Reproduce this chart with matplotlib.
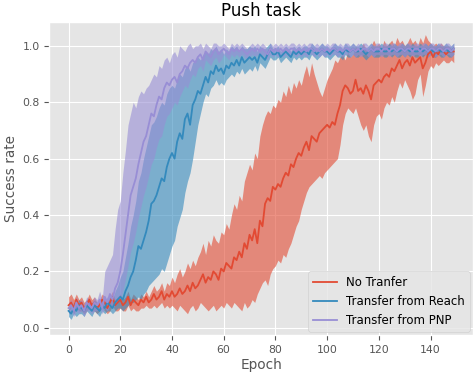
import numpy as np
import matplotlib
matplotlib.use("Agg")
import matplotlib.pyplot as plt

epochs = list(range(150))

# No Transfer
nt_mean = [
    0.08, 0.09, 0.07, 0.10, 0.08, 0.09, 0.07, 0.08, 0.10, 0.08,
    0.09, 0.07, 0.08, 0.10, 0.09, 0.07, 0.09, 0.11, 0.08, 0.09,
    0.10, 0.08, 0.09, 0.11, 0.08, 0.10, 0.09, 0.08, 0.10, 0.09,
    0.11, 0.09, 0.10, 0.12, 0.10, 0.11, 0.13, 0.10, 0.12, 0.11,
    0.13, 0.11, 0.12, 0.14, 0.12, 0.13, 0.15, 0.13, 0.16, 0.14,
    0.15, 0.17, 0.19, 0.16, 0.18, 0.17, 0.20, 0.19, 0.17, 0.21,
    0.20, 0.23, 0.22, 0.21, 0.25, 0.24, 0.27, 0.25, 0.30, 0.28,
    0.33, 0.31, 0.35, 0.30, 0.38, 0.36, 0.44, 0.46, 0.45, 0.50,
    0.49, 0.51, 0.50, 0.53, 0.55, 0.54, 0.58, 0.57, 0.60, 0.62,
    0.61, 0.64, 0.66, 0.63, 0.68, 0.67, 0.66, 0.69, 0.70, 0.71,
    0.72, 0.71, 0.73, 0.72, 0.76, 0.79, 0.84, 0.86, 0.85, 0.83,
    0.84, 0.88, 0.84, 0.85, 0.83, 0.86, 0.84, 0.81, 0.86, 0.87,
    0.88, 0.87, 0.89, 0.90, 0.89, 0.92, 0.91, 0.93, 0.95, 0.92,
    0.94, 0.95, 0.93, 0.96, 0.94, 0.95, 0.96, 0.92, 0.94, 0.97,
    0.98, 0.96, 0.98, 0.97, 0.99, 0.98, 0.97, 0.98, 0.98, 0.98,
]
nt_lo = [
    0.06, 0.07, 0.05, 0.07, 0.06, 0.06, 0.05, 0.06, 0.07, 0.06,
    0.06, 0.05, 0.06, 0.07, 0.06, 0.05, 0.06, 0.08, 0.06, 0.06,
    0.07, 0.06, 0.06, 0.08, 0.06, 0.07, 0.06, 0.06, 0.07, 0.07,
    0.08, 0.07, 0.07, 0.08, 0.07, 0.08, 0.09, 0.07, 0.08, 0.07,
    0.08, 0.07, 0.06, 0.08, 0.07, 0.06, 0.05, 0.07, 0.08, 0.06,
    0.07, 0.09, 0.08, 0.07, 0.06, 0.07, 0.08, 0.06, 0.07, 0.08,
    0.07, 0.09, 0.08, 0.07, 0.09, 0.08, 0.07, 0.06, 0.09, 0.07,
    0.08, 0.10, 0.09, 0.12, 0.14, 0.16, 0.17, 0.15, 0.19, 0.21,
    0.22, 0.24, 0.23, 0.26, 0.25, 0.28, 0.30, 0.33, 0.36, 0.38,
    0.42, 0.45, 0.48, 0.50, 0.51, 0.52, 0.53, 0.54, 0.53, 0.55,
    0.56, 0.57, 0.58, 0.59, 0.60, 0.65, 0.72, 0.76, 0.78, 0.77,
    0.76, 0.78, 0.75, 0.72, 0.70, 0.72, 0.68, 0.66, 0.72, 0.75,
    0.76, 0.74, 0.78, 0.80, 0.79, 0.82, 0.80, 0.84, 0.87, 0.85,
    0.88, 0.86, 0.84, 0.81, 0.83, 0.88, 0.90, 0.82, 0.86, 0.91,
    0.93, 0.92, 0.94, 0.93, 0.94, 0.95, 0.94, 0.94, 0.95, 0.94,
]
nt_hi = [
    0.11, 0.12, 0.10, 0.12, 0.10, 0.11, 0.09, 0.10, 0.12, 0.10,
    0.11, 0.09, 0.10, 0.12, 0.11, 0.09, 0.11, 0.13, 0.10, 0.11,
    0.12, 0.10, 0.11, 0.13, 0.10, 0.12, 0.11, 0.10, 0.12, 0.11,
    0.13, 0.11, 0.13, 0.15, 0.13, 0.14, 0.16, 0.13, 0.16, 0.15,
    0.18, 0.16, 0.19, 0.21, 0.18, 0.20, 0.23, 0.21, 0.24, 0.22,
    0.25, 0.27, 0.30, 0.26, 0.31, 0.29, 0.33, 0.31, 0.30, 0.34,
    0.33, 0.37, 0.35, 0.40, 0.44, 0.42, 0.47, 0.45, 0.52, 0.55,
    0.58, 0.56, 0.62, 0.60, 0.68, 0.72, 0.75, 0.77, 0.76, 0.79,
    0.78, 0.81, 0.80, 0.84, 0.82, 0.86, 0.83, 0.87, 0.85, 0.88,
    0.86, 0.90, 0.93, 0.89, 0.94, 0.90, 0.87, 0.84, 0.82, 0.85,
    0.88, 0.90, 0.92, 0.95, 0.94, 0.96, 0.97, 0.95, 0.98, 0.96,
    0.97, 1.00, 0.98, 0.99, 1.01, 0.99, 0.98, 1.00, 1.02, 1.00,
    1.01, 0.99, 1.02, 1.00, 1.01, 1.02, 1.00, 1.03, 1.01, 1.02,
    1.00, 1.01, 1.03, 1.01, 1.02, 1.00, 1.03, 1.01, 1.04, 1.02,
    1.01, 1.00, 1.01, 1.00, 1.01, 1.00, 1.00, 1.00, 0.99, 1.00,
]

# Transfer from Reach
re_mean = [
    0.06, 0.05, 0.07, 0.06, 0.08, 0.07, 0.06, 0.08, 0.07, 0.06,
    0.08, 0.07, 0.06, 0.08, 0.07, 0.09, 0.08, 0.07, 0.09, 0.10,
    0.11, 0.10, 0.13, 0.15, 0.18, 0.20, 0.24, 0.29, 0.28, 0.31,
    0.34, 0.38, 0.44, 0.45, 0.47, 0.50, 0.53, 0.52, 0.57, 0.60,
    0.62, 0.60, 0.66, 0.69, 0.67, 0.74, 0.76, 0.72, 0.79, 0.81,
    0.84, 0.83, 0.86, 0.89, 0.87, 0.91, 0.90, 0.93, 0.91, 0.92,
    0.90, 0.93, 0.92, 0.94, 0.93, 0.95, 0.93, 0.96, 0.94, 0.95,
    0.96, 0.95, 0.96, 0.94, 0.97, 0.96, 0.95, 0.97, 0.99, 0.97,
    0.97, 0.98, 0.96, 0.97, 0.98, 0.97, 0.96, 0.98, 0.97, 0.98,
    0.97, 0.98, 0.98, 0.97, 0.99, 0.98, 0.97, 0.98, 0.99, 0.98,
    0.98, 0.97, 0.98, 0.99, 0.98, 0.98, 0.97, 0.99, 0.98, 0.98,
    0.99, 0.98, 0.98, 0.99, 0.98, 0.97, 0.98, 0.99, 0.98, 0.98,
    0.98, 0.99, 0.98, 0.98, 0.99, 0.98, 0.99, 0.98, 0.98, 0.99,
    0.98, 0.99, 0.98, 0.99, 0.98, 0.98, 0.99, 0.98, 0.99, 0.98,
    0.99, 0.98, 0.98, 0.99, 0.98, 0.98, 0.99, 0.98, 0.98, 0.99,
]
re_lo = [
    0.04, 0.03, 0.05, 0.04, 0.05, 0.05, 0.04, 0.06, 0.05, 0.04,
    0.06, 0.05, 0.04, 0.06, 0.05, 0.06, 0.06, 0.05, 0.06, 0.07,
    0.07, 0.06, 0.07, 0.08, 0.09, 0.09, 0.10, 0.11, 0.10, 0.12,
    0.13, 0.15, 0.16, 0.17, 0.18, 0.19, 0.21, 0.20, 0.23, 0.26,
    0.29, 0.31, 0.36, 0.39, 0.42, 0.48, 0.52, 0.55, 0.60, 0.66,
    0.72, 0.76, 0.80, 0.83, 0.82, 0.85, 0.86, 0.88, 0.86, 0.87,
    0.86, 0.88, 0.89, 0.90, 0.89, 0.91, 0.90, 0.92, 0.90, 0.91,
    0.92, 0.91, 0.93, 0.91, 0.94, 0.93, 0.92, 0.94, 0.96, 0.95,
    0.95, 0.96, 0.94, 0.95, 0.96, 0.95, 0.94, 0.96, 0.95, 0.96,
    0.95, 0.96, 0.96, 0.95, 0.97, 0.96, 0.95, 0.96, 0.97, 0.96,
    0.96, 0.95, 0.96, 0.97, 0.96, 0.96, 0.95, 0.97, 0.96, 0.96,
    0.97, 0.96, 0.96, 0.97, 0.96, 0.95, 0.96, 0.97, 0.96, 0.96,
    0.96, 0.97, 0.96, 0.96, 0.97, 0.96, 0.97, 0.96, 0.96, 0.97,
    0.96, 0.97, 0.96, 0.97, 0.96, 0.96, 0.97, 0.96, 0.97, 0.96,
    0.97, 0.96, 0.96, 0.97, 0.96, 0.96, 0.97, 0.96, 0.96, 0.97,
]
re_hi = [
    0.08, 0.07, 0.09, 0.08, 0.10, 0.09, 0.08, 0.10, 0.09, 0.08,
    0.10, 0.09, 0.08, 0.10, 0.09, 0.11, 0.11, 0.10, 0.13, 0.15,
    0.18, 0.20, 0.25, 0.30, 0.36, 0.40, 0.45, 0.52, 0.55, 0.60,
    0.64, 0.68, 0.72, 0.73, 0.75, 0.78, 0.80, 0.79, 0.83, 0.85,
    0.86, 0.85, 0.88, 0.90, 0.89, 0.92, 0.93, 0.91, 0.94, 0.95,
    0.96, 0.95, 0.97, 0.98, 0.97, 0.99, 0.98, 1.00, 0.98, 0.99,
    0.97, 0.99, 0.98, 1.00, 0.99, 1.00, 0.98, 1.00, 0.99, 0.99,
    1.00, 0.99, 1.00, 0.98, 1.00, 0.99, 0.99, 1.00, 1.01, 0.99,
    0.99, 1.00, 0.98, 0.99, 1.00, 0.99, 0.98, 1.00, 0.99, 1.00,
    0.99, 1.00, 1.00, 0.99, 1.01, 1.00, 0.99, 1.00, 1.01, 1.00,
    1.00, 0.99, 1.00, 1.01, 1.00, 1.00, 0.99, 1.01, 1.00, 1.00,
    1.01, 1.00, 1.00, 1.01, 1.00, 0.99, 1.00, 1.01, 1.00, 1.00,
    1.00, 1.01, 1.00, 1.00, 1.01, 1.00, 1.01, 1.00, 1.00, 1.01,
    1.00, 1.01, 1.00, 1.01, 1.00, 1.00, 1.01, 1.00, 1.01, 1.00,
    1.01, 1.00, 1.00, 1.01, 1.00, 1.00, 1.01, 1.00, 1.00, 1.01,
]

# Transfer from PNP
pnp_mean = [
    0.07, 0.08, 0.06, 0.09, 0.07, 0.08, 0.06, 0.09, 0.08, 0.07,
    0.09, 0.08, 0.10, 0.07, 0.11, 0.09, 0.12, 0.10, 0.14, 0.16,
    0.20, 0.26, 0.33, 0.40, 0.47, 0.50, 0.53, 0.58, 0.62, 0.66,
    0.68, 0.72, 0.76, 0.75, 0.79, 0.82, 0.81, 0.85, 0.87, 0.86,
    0.88, 0.89, 0.87, 0.90, 0.91, 0.93, 0.92, 0.94, 0.95, 0.94,
    0.96, 0.97, 0.95, 0.98, 0.97, 0.96, 0.98, 0.99, 0.97, 0.98,
    0.99, 0.98, 0.97, 0.99, 0.98, 0.99, 0.98, 0.99, 0.98, 0.97,
    0.98, 0.99, 0.98, 0.99, 0.98, 0.99, 0.98, 0.97, 0.99, 0.98,
    0.99, 0.98, 0.99, 0.98, 0.99, 0.98, 0.99, 0.99, 0.98, 0.99,
    0.98, 0.99, 0.98, 0.99, 0.99, 0.98, 0.99, 0.98, 0.99, 0.98,
    0.99, 0.98, 0.99, 0.99, 0.98, 0.99, 0.98, 0.99, 0.99, 0.98,
    0.99, 0.98, 0.99, 0.98, 0.99, 0.99, 0.98, 0.99, 0.98, 0.99,
    0.99, 0.98, 0.99, 0.99, 0.98, 0.99, 0.99, 0.98, 0.99, 0.99,
    0.98, 0.99, 0.99, 0.98, 0.99, 0.99, 0.98, 0.99, 0.99, 0.98,
    0.99, 0.99, 0.98, 0.99, 0.99, 0.98, 0.99, 0.99, 0.98, 0.99,
]
pnp_lo = [
    0.05, 0.06, 0.04, 0.06, 0.05, 0.06, 0.04, 0.06, 0.06, 0.05,
    0.06, 0.06, 0.07, 0.05, 0.07, 0.06, 0.08, 0.07, 0.08, 0.09,
    0.10, 0.13, 0.17, 0.22, 0.27, 0.30, 0.34, 0.39, 0.43, 0.47,
    0.50, 0.54, 0.58, 0.60, 0.64, 0.67, 0.68, 0.72, 0.75, 0.76,
    0.78, 0.80, 0.79, 0.82, 0.84, 0.86, 0.85, 0.88, 0.90, 0.89,
    0.92, 0.93, 0.91, 0.95, 0.94, 0.93, 0.95, 0.96, 0.94, 0.95,
    0.97, 0.96, 0.95, 0.97, 0.96, 0.97, 0.96, 0.97, 0.96, 0.95,
    0.96, 0.97, 0.96, 0.97, 0.96, 0.97, 0.96, 0.95, 0.97, 0.96,
    0.97, 0.96, 0.97, 0.96, 0.97, 0.96, 0.97, 0.97, 0.96, 0.97,
    0.96, 0.97, 0.96, 0.97, 0.97, 0.96, 0.97, 0.96, 0.97, 0.96,
    0.97, 0.96, 0.97, 0.97, 0.96, 0.97, 0.96, 0.97, 0.97, 0.96,
    0.97, 0.96, 0.97, 0.96, 0.97, 0.97, 0.96, 0.97, 0.96, 0.97,
    0.97, 0.96, 0.97, 0.97, 0.96, 0.97, 0.97, 0.96, 0.97, 0.97,
    0.96, 0.97, 0.97, 0.96, 0.97, 0.97, 0.96, 0.97, 0.97, 0.96,
    0.97, 0.97, 0.96, 0.97, 0.97, 0.96, 0.97, 0.97, 0.96, 0.97,
]
pnp_hi = [
    0.09, 0.10, 0.08, 0.11, 0.09, 0.10, 0.08, 0.11, 0.10, 0.09,
    0.11, 0.10, 0.13, 0.10, 0.20, 0.22, 0.24, 0.26, 0.35, 0.42,
    0.45, 0.55, 0.63, 0.72, 0.76, 0.80, 0.78, 0.82, 0.84, 0.83,
    0.85, 0.86, 0.88, 0.90, 0.89, 0.93, 0.92, 0.95, 0.96, 0.94,
    0.97, 0.98, 0.96, 1.00, 0.99, 0.98, 1.00, 1.01, 0.99, 1.00,
    1.00, 1.01, 0.99, 1.01, 1.00, 0.99, 1.01, 1.01, 1.00, 1.00,
    1.01, 1.00, 0.99, 1.01, 1.00, 1.01, 1.00, 1.01, 1.00, 0.99,
    1.00, 1.01, 1.00, 1.01, 1.00, 1.01, 1.00, 0.99, 1.01, 1.00,
    1.01, 1.00, 1.01, 1.00, 1.01, 1.00, 1.01, 1.01, 1.00, 1.01,
    1.00, 1.01, 1.00, 1.01, 1.01, 1.00, 1.01, 1.00, 1.01, 1.00,
    1.01, 1.00, 1.01, 1.01, 1.00, 1.01, 1.00, 1.01, 1.01, 1.00,
    1.01, 1.00, 1.01, 1.00, 1.01, 1.01, 1.00, 1.01, 1.00, 1.01,
    1.01, 1.00, 1.01, 1.01, 1.00, 1.01, 1.01, 1.00, 1.01, 1.01,
    1.00, 1.01, 1.01, 1.00, 1.01, 1.01, 1.00, 1.01, 1.01, 1.00,
    1.01, 1.01, 1.00, 1.01, 1.01, 1.00, 1.01, 1.01, 1.00, 1.01,
]

labels = ["No Tranfer", "Transfer from Reach", "Transfer from PNP"]
colors = ["#E24A33", "#348ABD", "#988ED5"]
x_ticks = [0, 20, 40, 60, 80, 100, 120, 140]
y_ticks = [0.0, 0.2, 0.4, 0.6, 0.8, 1.0]

plt.style.use("ggplot")
fig = plt.figure(figsize=(4.74, 3.77), dpi=100)
ax = fig.add_axes([0.104, 0.111, 0.894, 0.831])

series = [(nt_mean, nt_lo, nt_hi), (re_mean, re_lo, re_hi), (pnp_mean, pnp_lo, pnp_hi)]
for (m, lo, hi), lab, c in zip(series, labels, colors):
    ax.fill_between(epochs, lo, hi, color=c, alpha=0.6, linewidth=0)
    ax.plot(epochs, m, color=c, lw=1.3, label=lab)

ax.set_xlim(-7.45, 156.45)
ax.set_ylim(-0.026, 1.085)
ax.set_xticks(x_ticks)
ax.set_yticks(y_ticks)
ax.tick_params(labelsize=7.8)
ax.set_xlabel("Epoch", fontsize=9.8, labelpad=2)
ax.set_ylabel("Success rate", fontsize=9.8, labelpad=3)
ax.set_title("Push task", fontsize=12, color="black", pad=4)
ax.legend(loc="lower right", fontsize=8.5, borderaxespad=0.3)

fig.savefig("out.png", dpi=100)
